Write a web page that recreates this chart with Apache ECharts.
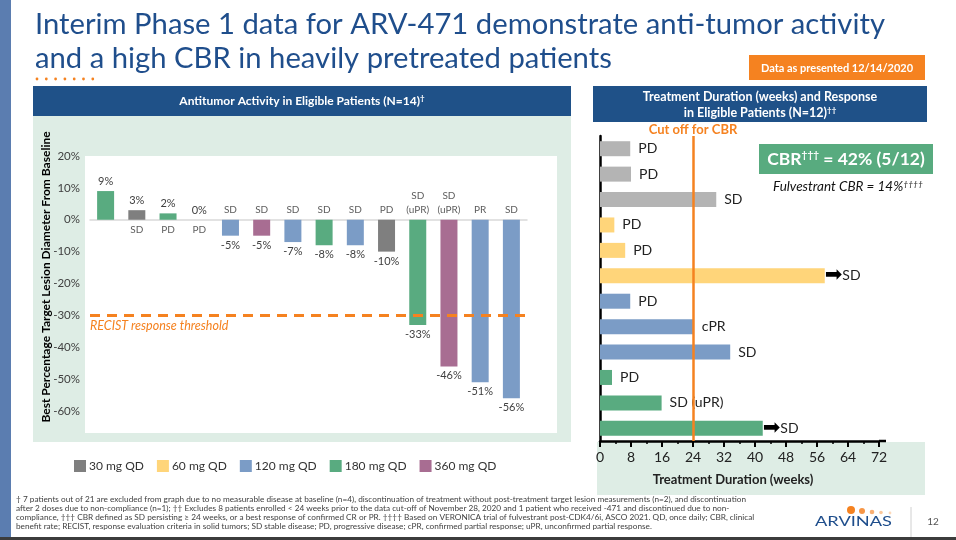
<!DOCTYPE html>
<html><head><meta charset="utf-8">
<script src="https://cdn.jsdelivr.net/npm/echarts@6/dist/echarts.min.js"></script>
<style>html,body{margin:0;padding:0;background:#fff}#c{width:956px;height:540px}</style>
</head><body><div id="c"></div>
<script>
// ---------------- DATA ----------------
const patients = ['P1','P2','P3','P4','P5','P6','P7','P8','P9','P10','P11','P12','P13','P14'];
const changePct = [9, 3, 2, 0, -5, -5, -7, -8, -8, -10, -33, -46, -51, -56];
const changeDose = [180, 30, 180, 60, 120, 360, 120, 180, 120, 30, 180, 360, 120, 120];
const changeResp = ['', 'SD', 'PD', 'PD', 'SD', 'SD', 'SD', 'SD', 'SD', 'PD', 'SD\n(uPR)', 'SD\n(uPR)', 'PR', 'SD'];
const doseValues = [30, 60, 120, 180, 360];
const doseNames = ['30 mg QD', '60 mg QD', '120 mg QD', '180 mg QD', '360 mg QD'];
const pctAxis = {min: -60, max: 20, interval: 10};
const recistThreshold = -30;

const durPatients = ['D1','D2','D3','D4','D5','D6','D7','D8','D9','D10','D11','D12'];
const durWeeks = [7.8, 8, 30, 3.7, 6.5, 58, 7.8, 24.2, 33.6, 3.1, 15.9, 42];
const durDose = [30, 30, 30, 60, 60, 60, 120, 120, 120, 180, 180, 180];
const durResp = ['PD', 'PD', 'SD', 'PD', 'PD', 'SD', 'PD', 'cPR', 'SD', 'PD', 'SD (uPR)', 'SD'];
const durOngoing = [0, 0, 0, 0, 0, 1, 0, 0, 0, 0, 0, 1];
const weekAxis = {min: 0, max: 72, interval: 8};
const cbrCutoff = 24;

// ---------------- STYLE ----------------
const FONT = 'Lato';
const leftColors = {30:'#7F7F7F', 60:'#FFD57A', 120:'#7B9CC6', 180:'#59AB80', 360:'#A86D92'};
const rightColors = {30:'#B4B4B4', 60:'#FFD57A', 120:'#7B9CC6', 180:'#59AB80', 360:'#A86D92'};
const ORANGE = '#F58220', NAVY = '#1F5188', PALE = '#DEEDE5';
const L = {left: 90, top: 156, width: 437, height: 255};
const R = {left: 600, top: 136, width: 279, height: 305};

const mctx = document.createElement('canvas').getContext('2d');
function fit(text, font, w) { mctx.font = font; return w / mctx.measureText(text).width; }

const titleLines = ['Interim Phase 1 data for ARV-471 demonstrate anti-tumor activity',
                    'and a high CBR in heavily pretreated patients'];
const tScale = fit(titleLines[0], '29px ' + FONT, 850);

const footLines = [
 '\u2020 7 patients out of 21 are excluded from graph due to no measurable disease at baseline (n=4), discontinuation of treatment without post-treatment target lesion measurements (n=2), and discontinuation',
 'after 2 doses due to non-compliance (n=1); \u2020\u2020 Excludes 8 patients enrolled < 24 weeks prior to the data cut-off of November 28, 2020 and 1 patient who received -471 and discontinued due to non-',
 'compliance, \u2020\u2020\u2020 CBR defined as SD persisting \u2265 24 weeks, or a best response of confirmed CR or PR. \u2020\u2020\u2020\u2020 Based on VERONICA trial of fulvestrant post-CDK4/6i, ASCO 2021. QD, once daily; CBR, clinical',
 'benefit rate; RECIST, response evaluation criteria in solid tumors; SD stable disease; PD, progressive disease; cPR, confirmed partial response; uPR, unconfirmed partial response.'
];
const fScale = fit(footLines[0], '8px ' + FONT, 730);
const logoScale = fit('ARVINAS', '13px ' + FONT, 77);

// ---------------- GRAPHICS ----------------
const g = [];
function rect(x, y, w, h, fill, z) { g.push({type:'rect', z: z == null ? -10 : z, silent:true, shape:{x, y, width:w, height:h}, style:{fill}}); }
function text(x, y, t, st, extra) { g.push(Object.assign({type:'text', z:50, silent:true, x, y, style:Object.assign({text:t, fontFamily:FONT}, st)}, extra || {})); }

rect(0, 0, 11, 537, '#5B7DB0');
rect(0, 537, 956, 3, '#3C3C3C');
titleLines.forEach((t, i) => text(35, 25 + i * 34, t, {fontSize:29, fill:'#1F4E8C', verticalAlign:'middle'}, {scaleX:tScale}));
for (let i = 0; i < 7; i++) g.push({type:'circle', silent:true, shape:{cx:37 + i * 9.3, cy:79, r:1.4}, style:{fill:ORANGE}});
rect(749, 55, 176, 25, ORANGE, 1);
text(837, 68, 'Data as presented 12/14/2020', {fontSize:11, fontWeight:'bold', fill:'#fff', align:'center', verticalAlign:'middle'});

// left panel
rect(33, 86, 538, 30, NAVY);
rect(33, 116, 538, 326, PALE);
rect(85, 156, 472, 277, '#FFFFFF', -9);
text(302, 101, '{t|Antitumor Activity in Eligible Patients (N=14)}{s|\u2020}', {align:'center', verticalAlign:'middle',
  rich:{t:{fontSize:12, fontWeight:'bold', fill:'#fff', fontFamily:FONT}, s:{fontSize:8, fontWeight:'bold', fill:'#fff', fontFamily:FONT, padding:[0,0,6,0]}}});
text(46, 277, 'Best Percentage Target Lesion Diameter From Baseline', {fontSize:12, fontWeight:'bold', fill:'#000', align:'center', verticalAlign:'middle'}, {rotation:Math.PI / 2});

// right panel
rect(593, 86, 334, 36, NAVY);
text(760, 97, 'Treatment Duration (weeks) and Response', {fontSize:12.5, fontWeight:'bold', fill:'#fff', align:'center', verticalAlign:'middle'});
text(760, 113, '{t|in Eligible Patients (N=12)}{s|\u2020\u2020}', {align:'center', verticalAlign:'middle',
  rich:{t:{fontSize:12.5, fontWeight:'bold', fill:'#fff', fontFamily:FONT}, s:{fontSize:8, fontWeight:'bold', fill:'#fff', fontFamily:FONT, padding:[0,0,6,0]}}});
rect(597, 442, 328, 53, PALE);
text(733, 480, 'Treatment Duration (weeks)', {fontSize:13, fontWeight:'bold', fill:'#222', align:'center', verticalAlign:'middle'});
g.push({type:'line', z:5, silent:true, shape:{x1:R.left + R.width, y1:R.top + R.height, x2:R.left + R.width + 7, y2:R.top + R.height}, style:{stroke:'#000', lineWidth:2.5}});
rect(759, 144, 174, 30, '#58AB7F', 1);
text(846, 159, '{t|CBR}{s|\u2020\u2020\u2020}{t| = 42% (5/12)}', {align:'center', verticalAlign:'middle',
  rich:{t:{fontSize:17.5, fontWeight:'bold', fill:'#fff', fontFamily:FONT}, s:{fontSize:10, fontWeight:'bold', fill:'#fff', fontFamily:FONT, padding:[0,0,9,0]}}});
text(848, 187, '{t|Fulvestrant CBR = 14%}{s|\u2020\u2020\u2020\u2020}', {align:'center', verticalAlign:'middle',
  rich:{t:{fontSize:13.5, fontStyle:'italic', fill:'#111', fontFamily:FONT}, s:{fontSize:8.5, fontStyle:'italic', fill:'#111', fontFamily:FONT, padding:[0,0,6,0]}}});

// footer
footLines.forEach((t, i) => text(16, 499 + i * 9, t, {fontSize:8, fill:'#404040', verticalAlign:'middle'}, {scaleX:fScale}));
[[851, 510, 4, '#F58220'], [862, 511, 3, '#F79646'], [872, 512, 2.3, '#F9B074'], [881, 512.5, 1.8, '#FBC89B'], [890, 513, 1.4, '#FCD9BA']]
  .forEach(d => g.push({type:'circle', silent:true, shape:{cx:d[0], cy:d[1], r:d[2]}, style:{fill:d[3]}}));
text(815, 522, 'ARVINAS', {fontSize:13, fill:'#1F4E8C', verticalAlign:'middle'}, {scaleX:logoScale});
g.push({type:'line', silent:true, shape:{x1:911, y1:507, x2:911, y2:537}, style:{stroke:'#D0D0D0', lineWidth:1}});
text(933, 522, '12', {fontSize:10, fill:'#555', align:'center', verticalAlign:'middle'});

// ---------------- SERIES ----------------
const leftSeries = doseValues.map((d, k) => ({
  name: doseNames[k], type:'bar', xAxisIndex:0, yAxisIndex:0, barWidth:17, barGap:'-100%', silent:true,
  itemStyle:{color: leftColors[d]},
  label:{show:true, formatter: p => p.value + '%', fontSize:11, color:'#404040', distance:4, fontFamily:FONT},
  data: changePct.map((v, i) => changeDose[i] === d ? {value:v, label:{position: v >= 0 ? 'top' : 'bottom'}} : '-')
}));
leftSeries[0].markLine = {
  silent:true, symbol:['none','none'], animation:false,
  lineStyle:{color:ORANGE, width:3, type:[10,7]},
  label:{show:true, position:'insideStartBottom', formatter:'RECIST response threshold', color:ORANGE,
         fontStyle:'italic', fontSize:12.5, fontFamily:FONT, distance:[0,4]},
  data:[{yAxis: recistThreshold}]
};

const respSeries = {
  type:'scatter', xAxisIndex:0, yAxisIndex:0, symbolSize:0, silent:true,
  label:{show:true, formatter: p => changeResp[p.dataIndex], fontSize:10, color:'#333', lineHeight:14, distance:3, fontFamily:FONT},
  data: changePct.map((v, i) => ({value:[i, 0], label:{position: v < 0 ? 'top' : 'bottom'}}))
};

const durSeries = {
  type:'bar', xAxisIndex:1, yAxisIndex:1, barWidth:15, silent:true,
  data: durWeeks.map((v, i) => ({value:v, itemStyle:{color: rightColors[durDose[i]]},
        label:{distance: durOngoing[i] ? 0 : 8}})),
  label:{show:true, position:'right',
    formatter: p => (durOngoing[p.dataIndex] ? '{a|\u27A1}' : '') + '{t|' + durResp[p.dataIndex] + '}',
    rich:{a:{fontSize:21, color:'#000', fontFamily:'DejaVu Sans'}, t:{fontSize:14, color:'#222', fontFamily:FONT}}},
  markLine:{silent:true, symbol:['none','none'], animation:false,
    lineStyle:{color:ORANGE, width:2.5, type:'solid'},
    label:{show:true, position:'start', formatter:'Cut off for CBR', color:ORANGE, fontWeight:'bold', fontSize:13, fontFamily:FONT, distance:0},
    data:[{xAxis: cbrCutoff}]}
};

const option = {
  animation:false,
  textStyle:{fontFamily:FONT},
  graphic:{elements:g},
  legend:{data:doseNames, left:74, top:460, padding:0, itemWidth:12, itemHeight:12, itemGap:13, icon:'rect', selectedMode:false,
          textStyle:{fontSize:12, color:'#333', fontFamily:FONT, padding:[0,0,0,-2]}},
  grid:[Object.assign({containLabel:false}, L), Object.assign({containLabel:false}, R)],
  xAxis:[
    {type:'category', gridIndex:0, data:patients, axisLabel:{show:false}, axisTick:{show:false},
     axisLine:{show:true, onZero:true, lineStyle:{color:'#D9D9D9', width:1.5}}},
    {type:'value', gridIndex:1, min:weekAxis.min, max:weekAxis.max, interval:weekAxis.interval,
     axisLine:{show:true, lineStyle:{color:'#000', width:2.5}},
     axisTick:{show:true, length:6, lineStyle:{color:'#000', width:2}},
     minorTick:{show:true, splitNumber:2, length:3, lineStyle:{color:'#000', width:1.5}},
     splitLine:{show:false}, minorSplitLine:{show:false},
     axisLabel:{fontSize:14, color:'#222', margin:9, fontFamily:FONT}}
  ],
  yAxis:[
    {type:'value', gridIndex:0, min:pctAxis.min, max:pctAxis.max, interval:pctAxis.interval,
     axisLine:{show:false}, axisTick:{show:false}, splitLine:{show:false},
     axisLabel:{formatter:'{value}%', fontSize:11.5, color:'#404040', margin:10, fontFamily:FONT}},
    {type:'category', gridIndex:1, data:durPatients, inverse:true,
     axisLine:{show:true, lineStyle:{color:'#000', width:2.5}}, axisTick:{show:false}, axisLabel:{show:false}}
  ],
  series:[...leftSeries, respSeries, durSeries]
};

const chart = echarts.init(document.getElementById('c'));
chart.setOption(option);
</script></body></html>
